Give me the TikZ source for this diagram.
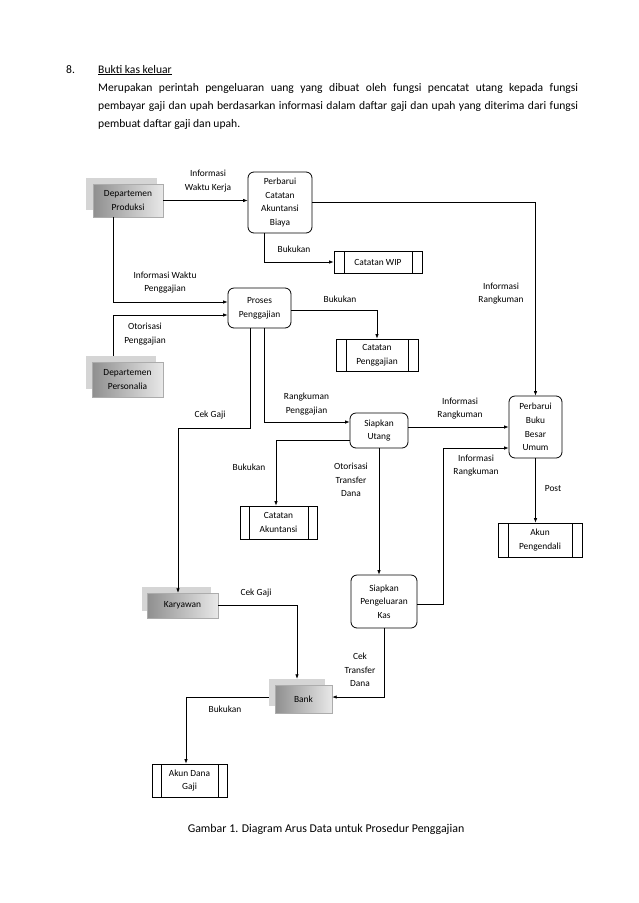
\documentclass[tikz,border=0pt]{standalone}
\usepackage{fontspec}
\setmainfont{Carlito}
\usetikzlibrary{arrows.meta,calc}
\newcommand{\bodyf}{\fontsize{11.6}{18}\selectfont}
\newcommand{\dgf}{\fontsize{9.4}{13.7}\selectfont}
\begin{document}
\begin{tikzpicture}[x=1pt,y=-1pt,
  proc/.style={draw, line width=0.8pt, rounded corners=6pt, align=center, font=\dgf, inner sep=0pt},
  ent/.style={draw=gray!65, line width=0.4pt, left color=gray!88, right color=gray!18, align=center, font=\dgf, inner sep=0pt},
  entback/.style={fill=gray!33, inner sep=0pt},
  store/.style={draw, line width=0.8pt, align=center, font=\dgf, inner sep=0pt,
    path picture={
      \draw[line width=0.8pt] ([xshift=#1]path picture bounding box.north west) -- ([xshift=#1]path picture bounding box.south west);
      \draw[line width=0.8pt] ([xshift=-#1]path picture bounding box.north east) -- ([xshift=-#1]path picture bounding box.south east);}},
  store/.default=10pt,
  lbl/.style={align=center, font=\dgf, inner sep=0pt},
  arr/.style={-{Latex[length=4.5pt,width=3.5pt]}, line width=0.7pt},
  ln/.style={line width=0.7pt}]
\useasboundingbox (0,0) rectangle (638,903);

% header text
\node[anchor=base west, inner sep=0pt, font=\bodyf] (num) at (66,73) {8.};
\node[anchor=base west, inner sep=0pt, font=\bodyf] (ttl) at (98,73) {\underline{Bukti kas keluar}};
\node[anchor=base west, inner sep=0pt, font=\bodyf] (p1) at (98,91) {\makebox[480pt][s]{Merupakan perintah pengeluaran uang yang dibuat oleh fungsi pencatat utang kepada fungsi}};
\node[anchor=base west, inner sep=0pt, font=\bodyf] (p2) at (98,109) {\spaceskip=0.12em plus 3em\makebox[480pt][s]{pembayar gaji dan upah berdasarkan informasi dalam daftar gaji dan upah yang diterima dari fungsi}};
\node[anchor=base west, inner sep=0pt, font=\bodyf] (p3) at (98,127) {pembuat daftar gaji dan upah.};

% external entities
\node[entback, minimum width=71pt, minimum height=32pt] (prodback) at (121.5,194) {};
\node[ent, minimum width=70pt, minimum height=33pt] (prod) at (128,200.5) {Departemen\\Produksi};
\node[entback, minimum width=70pt, minimum height=33pt] (persback) at (121,372.5) {};
\node[ent, minimum width=71pt, minimum height=35pt] (pers) at (127.5,379.5) {Departemen\\Personalia};
\node[entback, minimum width=69pt, minimum height=24pt] (karyback) at (176.5,599) {};
\node[ent, minimum width=71pt, minimum height=25pt] (kary) at (182.5,605.5) {Karyawan};
\node[entback, minimum width=56pt, minimum height=27pt] (bankback) at (297,692.5) {};
\node[ent, minimum width=57pt, minimum height=28pt] (bank) at (303.5,699) {Bank};

% processes
\node[proc, minimum width=64pt, minimum height=61pt] (pca) at (280,202.5) {Perbarui\\Catatan\\Akuntansi\\Biaya};
\node[proc, minimum width=63pt, minimum height=40pt] (proses) at (259.5,308) {Proses\\Penggajian};
\node[proc, minimum width=58pt, minimum height=35pt] (utang) at (379,430.5) {Siapkan\\Utang};
\node[proc, minimum width=66pt, minimum height=53pt] (kas) at (384,601.5) {Siapkan\\Pengeluaran\\Kas};
\node[proc, minimum width=53pt, minimum height=62pt] (buku) at (535.5,427) {Perbarui\\Buku\\Besar\\Umum};

% data stores
\node[store, minimum width=88pt, minimum height=22pt] (wip) at (378,262) {Catatan WIP};
\node[store, minimum width=82pt, minimum height=32pt] (cpg) at (377,355) {Catatan\\Penggajian};
\node[store=9pt, minimum width=77pt, minimum height=33pt] (cak) at (278.5,522.5) {Catatan\\Akuntansi};
\node[store, minimum width=84pt, minimum height=34pt] (akp) at (540,540) {Akun\\Pengendali};
\node[store=9pt, minimum width=75pt, minimum height=33pt] (adg) at (189.5,780.5) {Akun Dana\\Gaji};

% connectors
\draw[arr] (prod.east) -- (prod.east -| pca.west);
\draw[arr] (pca.east) -| (buku.north);
\draw[arr] ([xshift=-16pt]pca.south) |- (wip.west);
\draw[arr] ([xshift=-15pt]prod.south) |- ([yshift=6pt]proses.west);
\draw[arr] ([xshift=-8pt]persback.north) |- ([yshift=-7pt]proses.west);
\draw[arr] ([yshift=-2pt]proses.east) -| (cpg.north);
\draw[arr] ([xshift=-9.5pt]proses.south) -- ++(0,100) -| ([xshift=-4.5pt]kary.north);
\draw[arr] ([xshift=4.5pt]proses.south) |- ([yshift=8.5pt]utang.west);
\draw[arr] (utang.east |- buku.west) -- (buku.west);
\draw[arr] ([yshift=-9.5pt]utang.west) -| ([xshift=-2.5pt]cak.north);
\draw[arr] (utang.south) -- (utang.south |- kas.north);
\draw[arr] ([yshift=-2.5pt]kas.east) -- ++(26,0) |- ([yshift=-21pt]buku.west);
\draw[arr] (kas.south) |- ([yshift=2pt]bank.east);
\draw[arr] (kary.east) -| (bankback.north);
\draw[arr] ([yshift=-4.5pt]bankback.west) -| ([xshift=-3.5pt]adg.north);
\draw[arr] (buku.south) -- (buku.south |- akp.north);

% labels
\node[lbl] (l1) at (208,181) {Informasi\\Waktu Kerja};
\node[lbl] (l2) at (501,293.5) {Informasi\\Rangkuman};
\node[lbl] (l3) at (294,249) {Bukukan};
\node[lbl] (l4) at (165,282.5) {Informasi Waktu\\Penggajian};
\node[lbl] (l5) at (145,334) {Otorisasi\\Penggajian};
\node[lbl] (l6) at (340,299) {Bukukan};
\node[lbl] (l7) at (210,415) {Cek Gaji};
\node[lbl] (l8) at (306.5,404) {Rangkuman\\Penggajian};
\node[lbl] (l9) at (460,408.5) {Informasi\\Rangkuman};
\node[lbl] (l10) at (476,465.5) {Informasi\\Rangkuman};
\node[lbl] (l11) at (249,467) {Bukukan};
\node[lbl] (l12) at (351,480) {Otorisasi\\Transfer\\Dana};
\node[lbl] (l13) at (553,489) {Post};
\node[lbl] (l14) at (256,593) {Cek Gaji};
\node[lbl] (l15) at (360,670) {Cek\\Transfer\\Dana};
\node[lbl] (l16) at (225,709) {Bukukan};

% caption
\node[anchor=base, inner sep=0pt, font=\fontsize{11.9}{14}\selectfont] (cap) at (326,832) {Gambar 1. Diagram Arus Data untuk Prosedur Penggajian};
\end{tikzpicture}
\end{document}
